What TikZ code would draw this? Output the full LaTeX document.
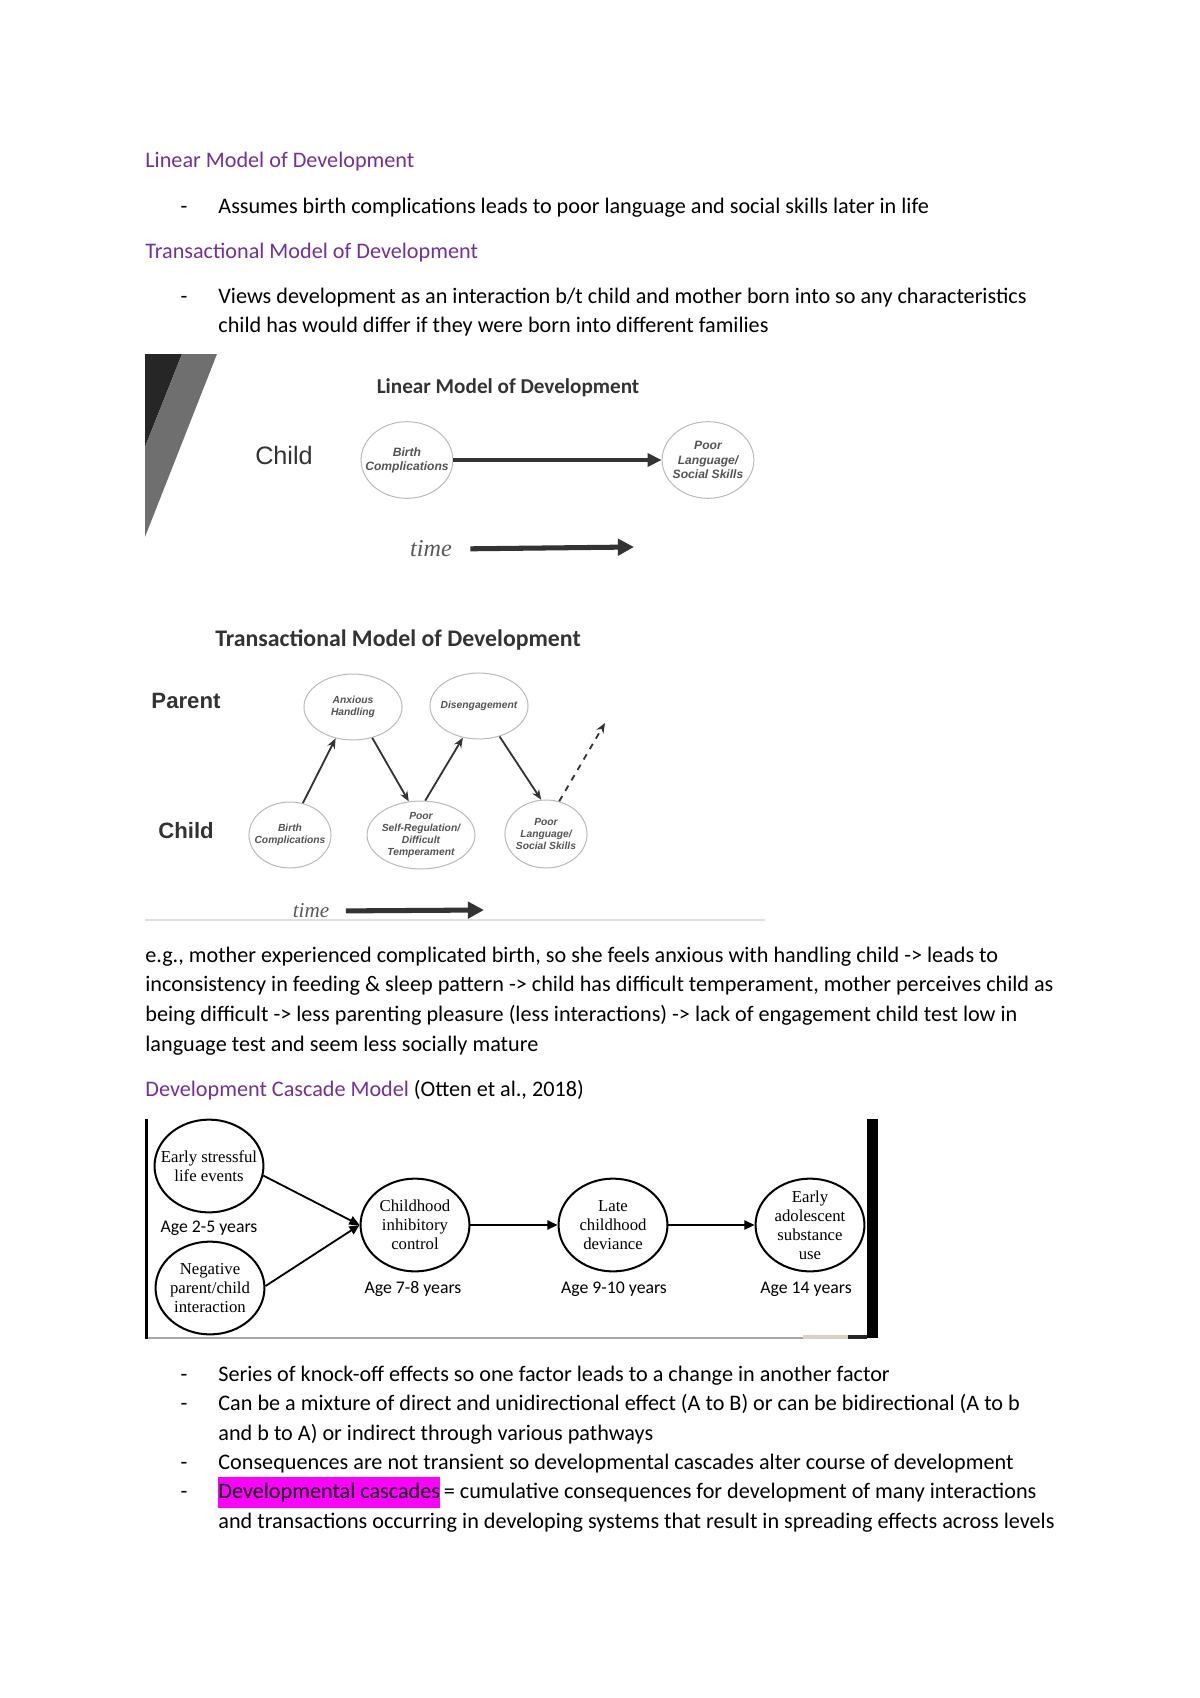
\documentclass[tikz,border=0pt]{standalone}
\usepackage{fontspec}
\setmainfont{Carlito}
\newfontfamily\figsans{Liberation Sans}
\newfontfamily\figserif{Liberation Serif}
\usepackage{tikz}
\usetikzlibrary{arrows.meta,positioning,calc,shapes.geometric}
\definecolor{Heading}{HTML}{7030A0}
\definecolor{Mark}{HTML}{FF00FF}
\definecolor{Ink}{HTML}{333333}
\definecolor{Wedge}{HTML}{6F6F6F}
\definecolor{Scan}{HTML}{D9D2C3}

\begin{document}
\begin{tikzpicture}[x=0.4958pt,y=-0.4958pt,
 every node/.style={inner sep=0pt},
 body/.style={anchor=base west,font=\fontsize{11}{13}\selectfont},
 heading/.style={body,text=Heading},
 bulletmark/.style={anchor=base,font=\fontsize{11}{13}\selectfont},
 figtitle/.style={font=\bfseries\fontsize{10.5}{12}\selectfont,text=Ink},
 rowlabel/.style={font=\figsans\fontsize{12.5}{14}\selectfont,text=Ink},
 oldbubble/.style={ellipse,draw=gray!55,line width=0.5pt,align=center,text=gray!65!black,inner sep=-8pt,
  font=\figsans\bfseries\itshape\fontsize{6}{7}\selectfont},
 smallbubble/.style={oldbubble,inner sep=-6pt,font=\figsans\bfseries\itshape\fontsize{5.1}{5.9}\selectfont},
 cascbubble/.style={ellipse,draw,line width=1pt,align=center,minimum width=54pt,minimum height=46pt,inner sep=-6pt,
  font=\figserif\fontsize{8.3}{9.4}\selectfont},
 agelabel/.style={font=\fontsize{8.8}{10}\selectfont},
 timetext/.style={font=\figserif\itshape\fontsize{12}{14}\selectfont,text=gray!70!black},
 bigflow/.style={-{Triangle[length=7pt,width=6.5pt]},line width=1.8pt,draw=Ink},
 timeflow/.style={-{Triangle[length=8pt,width=8pt]},line width=2.5pt,draw=Ink},
 thinflow/.style={-{Stealth[length=5pt,width=4pt]},line width=0.9pt,draw=Ink},
 cascflow/.style={-{Triangle[length=5pt,width=4.5pt]},line width=0.9pt}]
\useasboundingbox (0,0) rectangle (1200,1698);

% notes above the figures
\node[heading] (linhead) at (145,167) {Linear Model of Development};
\node[bulletmark] (b1) at (184,213) {-};
\node[body] (t1) at (218,213) {Assumes birth complications leads to poor language and social skills later in life};
\node[heading] (trahead) at (145,258) {Transactional Model of Development};
\node[bulletmark] (b2) at (184,303) {-};
\node[body] (t2) at (218,303) {Views development as an interaction b/t child and mother born into so any characteristics};
\node[body] (t2b) at (218,332) {child has would differ if they were born into different families};

% linear model
\fill[black!85] (145,354) -- (182,354) -- (145,447) -- cycle;
\fill[Wedge] (182,354) -- (217,354) -- (145,537) -- (145,447) -- cycle;
\node[figtitle] (lintitle) at (508,388) {Linear Model of Development};
\node[rowlabel] (linchild) at (284,455) {Child};
\node[oldbubble,minimum width=45.5pt,minimum height=38pt] (lbirth) at (407,460) {Birth\\Complications};
\node[oldbubble,minimum width=45.5pt,minimum height=38pt] (lpoor) at (708,460) {Poor\\Language/\\Social Skills};
\draw[bigflow] (lbirth) -- (lpoor);
\node[timetext] (ltime) at (431,549) {time};
\coordinate (ltimeend) at (634,547);
\draw[timeflow,shorten <=9pt] (ltime.east) -- (ltimeend);

% transactional model
\node[figtitle,font=\bfseries\fontsize{11.8}{14}\selectfont] (tratitle) at (398,640) {Transactional Model of Development};
\node[rowlabel,font=\figsans\bfseries\fontsize{11}{13}\selectfont] (tparent) at (186,701) {Parent};
\node[rowlabel,font=\figsans\bfseries\fontsize{11}{13}\selectfont] (tchild) at (186,831) {Child};
\node[smallbubble,minimum width=48.6pt,minimum height=32.7pt] (anx) at (353,707) {Anxious\\Handling};
\node[smallbubble,minimum width=48.6pt,minimum height=32.7pt] (dis) at (479,706) {Disengagement};
\node[smallbubble,minimum width=40.7pt,minimum height=32.7pt] (tbirth) at (290,835) {Birth\\Complications};
\node[smallbubble,minimum width=53.5pt,minimum height=33.7pt] (selfreg) at (421,835) {Poor\\Self-Regulation/\\Difficult\\Temperament};
\node[smallbubble,minimum width=40.7pt,minimum height=33.7pt] (tpoor) at (546,834) {Poor\\Language/\\Social Skills};
\coordinate (later) at (605,723);
\draw[thinflow] (tbirth.68) -- (anx.241);
\draw[thinflow] (anx.302) -- (selfreg.110);
\draw[thinflow] (selfreg.83) -- (dis.243);
\draw[thinflow] (dis.304) -- (tpoor.98);
\draw[thinflow,dashed] (tpoor.68) -- (later);
\node[timetext,font=\figserif\itshape\fontsize{10.5}{12}\selectfont] (ttime) at (311,911) {time};
\coordinate (ttimeend) at (484,910);
\draw[timeflow,shorten <=8pt] (ttime.east) -- (ttimeend);
\draw[gray!25,line width=0.6pt] (145,920) -- (765,920);

% example text
\node[body] (e1) at (145,962) {e.g., mother experienced complicated birth, so she feels anxious with handling child -> leads to};
\node[body] (e2) at (145,991) {inconsistency in feeding \& sleep pattern -> child has difficult temperament, mother perceives child as};
\node[body] (e3) at (145,1021) {being difficult -> less parenting pleasure (less interactions) -> lack of engagement child test low in};
\node[body] (e4) at (145,1051) {language test and seem less socially mature};
\node[heading] (caschead) at (145,1096) {Development Cascade Model};
\node[body] (cascref) at ($(caschead.base east)+(4,0)$) {(Otten et al., 2018)};

% cascade model
\fill[black] (145,1119) rectangle (148,1339);
\fill[black] (867,1119) rectangle (878,1338);
\draw[gray!70,line width=0.6pt] (148,1338) -- (803,1338);
\fill[Scan] (803,1335) rectangle (848,1339);
\fill[black!85] (848,1335) rectangle (867,1339);
\node[cascbubble] (stress) at (209,1166) {Early stressful\\life events};
\node[cascbubble] (negpc) at (210,1288) {Negative\\parent/child\\interaction};
\node[cascbubble] (inhib) at (415,1225) {Childhood\\inhibitory\\control};
\node[cascbubble] (devi) at (613,1225) {Late\\childhood\\deviance};
\node[cascbubble] (subst) at (810,1225) {Early\\adolescent\\substance\\use};
\foreach \n/\x/\y/\t in {age1/209/1228/Age 2-5 years,age2/413/1289/Age 7-8 years,age3/614/1289/Age 9-10 years,age4/806/1289/Age 14 years} {
 \node[agelabel] (\n) at (\x,\y) {\t};
}
\draw[cascflow] (stress.-10) -- (inhib.west);
\draw[cascflow] (negpc.2) -- (inhib.west);
\draw[cascflow] (inhib) -- (devi);
\draw[cascflow] (devi) -- (subst);

% notes below
\foreach \y in {1381,1410,1469,1498} {
 \node[bulletmark] at (184,\y) {-};
}
\node[body] (n1) at (218,1381) {Series of knock-off effects so one factor leads to a change in another factor};
\node[body] (n2) at (218,1410) {Can be a mixture of direct and unidirectional effect (A to B) or can be bidirectional (A to b};
\node[body] (n2b) at (218,1440) {and b to A) or indirect through various pathways};
\node[body] (n3) at (218,1469) {Consequences are not transient so developmental cascades alter course of development};
\node[body,fill=Mark,inner ysep=3pt] (hl) at (218,1498) {Developmental cascades};
\node[body] (n4) at ($(hl.base east)+(3,0)$) {= cumulative consequences for development of many interactions};
\node[body] (n4b) at (218,1528) {and transactions occurring in developing systems that result in spreading effects across levels};
\end{tikzpicture}
\end{document}
